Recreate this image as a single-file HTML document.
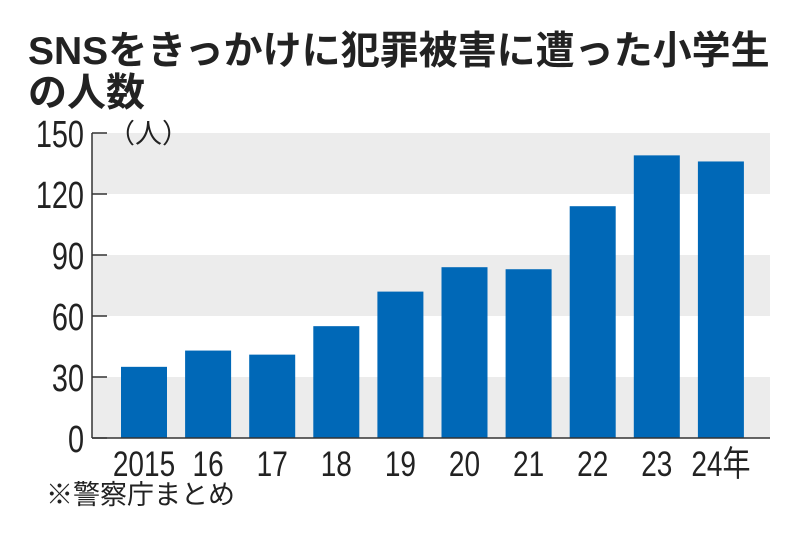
<!DOCTYPE html>
<html><head><meta charset="utf-8"><style>
body{margin:0;background:#fff;width:800px;height:540px;overflow:hidden;font-family:"Liberation Sans","Noto Sans CJK JP",sans-serif}
</style></head><body>
<svg id="c" width="800" height="540">
<text x="0" y="0" transform="translate(28,64) scale(1.0,1)" font-size="39" font-weight="bold" fill="#222" font-family="Liberation Sans,Noto Sans CJK JP,sans-serif">SNSをきっかけに犯罪被害に遭った小学生</text>
<text x="0" y="0" transform="translate(28,106) scale(1.0,1)" font-size="39" font-weight="bold" fill="#222" font-family="Liberation Sans,Noto Sans CJK JP,sans-serif">の人数</text>
<g id="bands"></g><g id="bars"></g><g id="axis"></g>
<text x="46" y="504" font-size="27" fill="#222" font-family="Liberation Sans,Noto Sans CJK JP,sans-serif">※警察庁まとめ</text>
</svg>
<script>
const categories=["2015","16","17","18","19","20","21","22","23","24年"];
const values=[35,43,41,55,72,84,83,114,139,136];
const ticks=[0,30,60,90,120,150];
const NS="http://www.w3.org/2000/svg";
const x0=92,x1=770,yZero=438,yTop=133,vmax=150;
const y=v=>yZero-(v/vmax)*(yZero-yTop);
const xc=i=>144+i*64.1;
function mk(t,a,p){const e=document.createElementNS(NS,t);for(const k in a)e.setAttribute(k,a[k]);p.appendChild(e);return e;}
const bands=document.getElementById('bands'),bars=document.getElementById('bars'),axis=document.getElementById('axis');
for(let i=0;i<ticks.length-1;i+=2){
 const r=mk('rect',{x:x0,y:y(ticks[i]+30),width:x1-x0,height:y(ticks[i])-y(ticks[i]+30),fill:'#ececec'},bands);
 
 
}
values.forEach((v,i)=>{
 const r=mk('rect',{x:xc(i)-23,y:y(v),width:46,height:yZero-y(v),fill:'#0068b7'},bars);
 
 
 const t=mk('text',{x:0,y:0,'font-size':35,fill:'#222','text-anchor':'middle',transform:`translate(${xc(i)},476) scale(0.8,1)`},axis);
 t.textContent=categories[i];
 
 
});
mk('line',{x1:x0,y1:yTop,x2:x0,y2:yZero,stroke:'#333','stroke-width':1.5},axis);
mk('line',{x1:x0,y1:yZero,x2:x1,y2:yZero,stroke:'#333','stroke-width':1.5},axis);
ticks.forEach(t=>{
 mk('line',{x1:x0,y1:y(t),x2:x0+15,y2:y(t),stroke:'#333','stroke-width':1.5},axis);
 const l=mk('text',{x:0,y:0,'font-size':38,fill:'#222','text-anchor':'end',transform:`translate(84,${y(t)+14}) scale(0.76,1)`},axis);
 l.textContent=t;
 
 
});
const u=mk('text',{x:108,y:143,'font-size':27,fill:'#222'},axis);
u.textContent='（人）';


</script>
</body></html>
